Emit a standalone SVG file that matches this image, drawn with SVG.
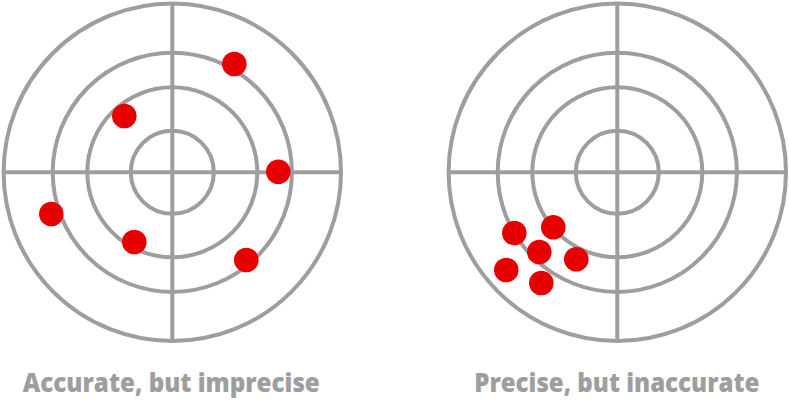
<svg xmlns="http://www.w3.org/2000/svg" width="789" height="403" viewBox="0 0 789 403">
<style>
.ring{fill:none;stroke:#9e9e9e;stroke-width:4}
.dot{fill:#e60000}
.lbl{font-family:"Open Sans","Liberation Sans",sans-serif;font-weight:800;font-size:26px;fill:#9e9e9e;text-anchor:middle}
</style>
<defs>
<g id="target">
<circle class="ring" cx="0" cy="0" r="168.7"/>
<circle class="ring" cx="0" cy="0" r="119.6"/>
<circle class="ring" cx="0" cy="0" r="85"/>
<circle class="ring" cx="0" cy="0" r="41.5"/>
<line class="ring" x1="-169" y1="0" x2="169" y2="0"/>
<line class="ring" x1="0" y1="-169" x2="0" y2="169"/>
</g>
</defs>
<g id="target-left">
<use href="#target" x="172.3" y="172.3"/>
<circle class="dot" cx="234.3" cy="64" r="12.3"/>
<circle class="dot" cx="124.3" cy="116" r="12.3"/>
<circle class="dot" cx="278.3" cy="171.7" r="12.3"/>
<circle class="dot" cx="51.3" cy="214" r="12.3"/>
<circle class="dot" cx="134.3" cy="242" r="12.3"/>
<circle class="dot" cx="246.3" cy="260" r="12.3"/>
<text class="lbl" x="171.3" y="392" textLength="297" lengthAdjust="spacingAndGlyphs">Accurate, but imprecise</text>
</g>
<g id="target-right">
<use href="#target" x="617.3" y="172.3"/>
<circle class="dot" cx="514.3" cy="233" r="12.3"/>
<circle class="dot" cx="553.3" cy="227.3" r="12.3"/>
<circle class="dot" cx="539.3" cy="252" r="12.3"/>
<circle class="dot" cx="576.3" cy="259.3" r="12.3"/>
<circle class="dot" cx="506.3" cy="270" r="12.3"/>
<circle class="dot" cx="541.3" cy="283" r="12.3"/>
<text class="lbl" x="616.8" y="392" textLength="285" lengthAdjust="spacingAndGlyphs">Precise, but inaccurate</text>
</g>
<g id="connectors"/>
</svg>
